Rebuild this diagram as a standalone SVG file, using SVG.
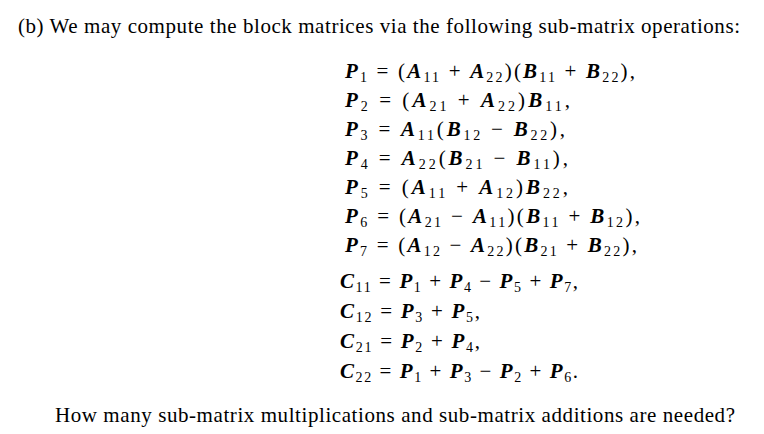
<svg xmlns="http://www.w3.org/2000/svg" width="764" height="434" viewBox="0 0 764 434">
<style>
text{font-family:"Liberation Serif","Times New Roman",serif;font-size:21px;fill:#000}
.m{font-weight:bold;font-style:italic}
.s{font-size:14px;font-weight:normal;font-style:normal}
</style>
<rect width="764" height="434" fill="#fff"/>
<text x="18" y="33" textLength="722" lengthAdjust="spacing">(b) We may compute the block matrices via the following sub-matrix operations:</text>
<g id="eqP">
<text x="345" y="78" textLength="290" lengthAdjust="spacing"><tspan class="m">P</tspan><tspan class="s" baseline-shift="-4">1</tspan> = (<tspan class="m">A</tspan><tspan class="s" baseline-shift="-4">11</tspan> + <tspan class="m">A</tspan><tspan class="s" baseline-shift="-4">22</tspan>)(<tspan class="m">B</tspan><tspan class="s" baseline-shift="-4">11</tspan> + <tspan class="m">B</tspan><tspan class="s" baseline-shift="-4">22</tspan>),</text>
<text x="345" y="107" textLength="225" lengthAdjust="spacing"><tspan class="m">P</tspan><tspan class="s" baseline-shift="-4">2</tspan> = (<tspan class="m">A</tspan><tspan class="s" baseline-shift="-4">21</tspan> + <tspan class="m">A</tspan><tspan class="s" baseline-shift="-4">22</tspan>)<tspan class="m">B</tspan><tspan class="s" baseline-shift="-4">11</tspan>,</text>
<text x="345" y="136" textLength="220" lengthAdjust="spacing"><tspan class="m">P</tspan><tspan class="s" baseline-shift="-4">3</tspan> = <tspan class="m">A</tspan><tspan class="s" baseline-shift="-4">11</tspan>(<tspan class="m">B</tspan><tspan class="s" baseline-shift="-4">12</tspan> − <tspan class="m">B</tspan><tspan class="s" baseline-shift="-4">22</tspan>),</text>
<text x="345" y="165" textLength="223" lengthAdjust="spacing"><tspan class="m">P</tspan><tspan class="s" baseline-shift="-4">4</tspan> = <tspan class="m">A</tspan><tspan class="s" baseline-shift="-4">22</tspan>(<tspan class="m">B</tspan><tspan class="s" baseline-shift="-4">21</tspan> − <tspan class="m">B</tspan><tspan class="s" baseline-shift="-4">11</tspan>),</text>
<text x="345" y="194" textLength="223" lengthAdjust="spacing"><tspan class="m">P</tspan><tspan class="s" baseline-shift="-4">5</tspan> = (<tspan class="m">A</tspan><tspan class="s" baseline-shift="-4">11</tspan> + <tspan class="m">A</tspan><tspan class="s" baseline-shift="-4">12</tspan>)<tspan class="m">B</tspan><tspan class="s" baseline-shift="-4">22</tspan>,</text>
<text x="345" y="223" textLength="295" lengthAdjust="spacing"><tspan class="m">P</tspan><tspan class="s" baseline-shift="-4">6</tspan> = (<tspan class="m">A</tspan><tspan class="s" baseline-shift="-4">21</tspan> − <tspan class="m">A</tspan><tspan class="s" baseline-shift="-4">11</tspan>)(<tspan class="m">B</tspan><tspan class="s" baseline-shift="-4">11</tspan> + <tspan class="m">B</tspan><tspan class="s" baseline-shift="-4">12</tspan>),</text>
<text x="345" y="252" textLength="292" lengthAdjust="spacing"><tspan class="m">P</tspan><tspan class="s" baseline-shift="-4">7</tspan> = (<tspan class="m">A</tspan><tspan class="s" baseline-shift="-4">12</tspan> − <tspan class="m">A</tspan><tspan class="s" baseline-shift="-4">22</tspan>)(<tspan class="m">B</tspan><tspan class="s" baseline-shift="-4">21</tspan> + <tspan class="m">B</tspan><tspan class="s" baseline-shift="-4">22</tspan>),</text>
</g>
<g id="eqC">
<text x="340" y="288" textLength="238" lengthAdjust="spacing"><tspan class="m">C</tspan><tspan class="s" baseline-shift="-4">11</tspan> = <tspan class="m">P</tspan><tspan class="s" baseline-shift="-4">1</tspan> + <tspan class="m">P</tspan><tspan class="s" baseline-shift="-4">4</tspan> − <tspan class="m">P</tspan><tspan class="s" baseline-shift="-4">5</tspan> + <tspan class="m">P</tspan><tspan class="s" baseline-shift="-4">7</tspan>,</text>
<text x="340" y="318" textLength="140" lengthAdjust="spacing"><tspan class="m">C</tspan><tspan class="s" baseline-shift="-4">12</tspan> = <tspan class="m">P</tspan><tspan class="s" baseline-shift="-4">3</tspan> + <tspan class="m">P</tspan><tspan class="s" baseline-shift="-4">5</tspan>,</text>
<text x="340" y="348" textLength="140" lengthAdjust="spacing"><tspan class="m">C</tspan><tspan class="s" baseline-shift="-4">21</tspan> = <tspan class="m">P</tspan><tspan class="s" baseline-shift="-4">2</tspan> + <tspan class="m">P</tspan><tspan class="s" baseline-shift="-4">4</tspan>,</text>
<text x="340" y="378" textLength="238" lengthAdjust="spacing"><tspan class="m">C</tspan><tspan class="s" baseline-shift="-4">22</tspan> = <tspan class="m">P</tspan><tspan class="s" baseline-shift="-4">1</tspan> + <tspan class="m">P</tspan><tspan class="s" baseline-shift="-4">3</tspan> − <tspan class="m">P</tspan><tspan class="s" baseline-shift="-4">2</tspan> + <tspan class="m">P</tspan><tspan class="s" baseline-shift="-4">6</tspan>.</text>
</g>
<text x="55" y="422" textLength="680" lengthAdjust="spacing">How many sub-matrix multiplications and sub-matrix additions are needed?</text>
</svg>
